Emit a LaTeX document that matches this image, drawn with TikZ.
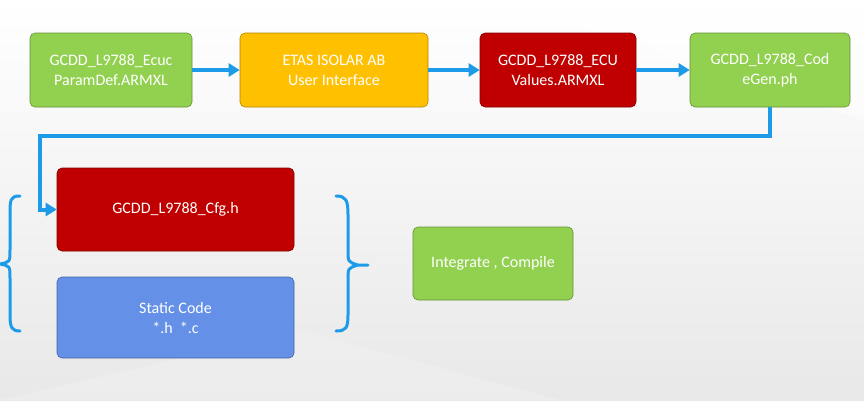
\documentclass[tikz,border=0pt]{standalone}
\usepackage{fontspec}
\setmainfont{Carlito}
\usetikzlibrary{arrows.meta}
\definecolor{gr}{HTML}{92D050}
\definecolor{yl}{HTML}{FFC000}
\definecolor{rd}{HTML}{C00000}
\definecolor{bl}{HTML}{6490E8}
\definecolor{ar}{HTML}{1E9BE8}
\tikzset{
 box/.style={draw=#1!70!black, fill=#1, rounded corners=5pt, text=white, align=center, font=\fontsize{16}{20}\selectfont, line width=0.6pt},
 con/.style={draw=ar, line width=4pt, -{Triangle[length=11pt,width=13pt]}},
 br/.style={draw=ar, line width=3pt, line cap=round}
}
\begin{document}
\begin{tikzpicture}[x=1pt,y=-1pt]
\useasboundingbox (0,0) rectangle (864,400);
\shade[top color=white, bottom color=gray!18] (0,0) rectangle (864,400);
\fill[white,opacity=0.5] (500,0) -- (864,120) -- (864,0) -- cycle;
\fill[gray!12,opacity=0.6] (0,400) -- (300,330) -- (560,400) -- cycle;
\node[box=gr, minimum width=162pt, minimum height=74pt] (a) at (111,70) {GCDD\_L9788\_Ecuc\\ParamDef.ARMXL};
\node[box=yl, minimum width=188pt, minimum height=74pt] (b) at (334,70) {ETAS ISOLAR AB\\User Interface};
\node[box=rd, minimum width=156pt, minimum height=74pt] (c) at (558,70) {GCDD\_L9788\_ECU\\Values.ARMXL};
\node[box=gr, minimum width=160pt, minimum height=74pt] (d) at (770,70) {GCDD\_L9788\_Cod\\eGen.ph};
\node[box=rd, minimum width=237pt, minimum height=83pt] (e) at (175.5,209.5) {GCDD\_L9788\_Cfg.h};
\node[box=bl, minimum width=237pt, minimum height=81pt] (f) at (175.5,317.5) {Static Code\\*.h\ \ *.c};
\node[box=gr, minimum width=160pt, minimum height=73pt] (g) at (493,263.5) {Integrate , Compile};
\draw[con] (a) -- (b);
\draw[con] (b) -- (c);
\draw[con] (c) -- (d);
\coordinate (p1) at (770,136);
\coordinate (p2) at (40,136);
\draw[con] (d.south) -- (p1) -- (p2) |- (e.west);
\draw[br] (20,196) .. controls (10,196) and (10,200) .. (10,215) -- (10,250) .. controls (10,262) .. (0,264)
 (0,264) .. controls (10,266) .. (10,278) -- (10,315) .. controls (10,328) and (12,331) .. (20,331);
\draw[br] (336,196) .. controls (346,196) and (348,200) .. (348,215) -- (348,250) .. controls (348,262) .. (358,265) -- (368,265)
 (358,265) .. controls (348,268) .. (348,280) -- (348,315) .. controls (348,328) and (346,331) .. (336,331);
\end{tikzpicture}
\end{document}
